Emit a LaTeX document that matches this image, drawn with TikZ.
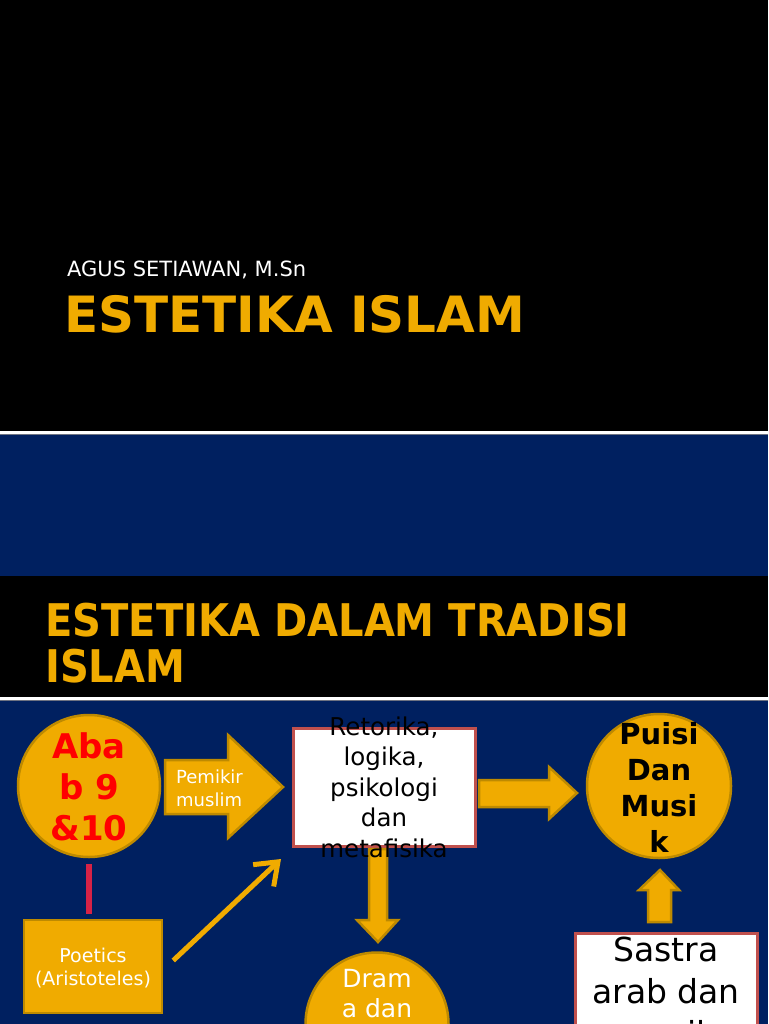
\documentclass[tikz,border=0pt]{standalone}
\usepackage{fontspec}
\setmainfont{DejaVu Sans}
\newfontfamily\condfont[FakeStretch=0.89]{DejaVu Sans}
\usetikzlibrary{arrows.meta}
\definecolor{navy}{RGB}{0,32,96}
\definecolor{gold}{RGB}{240,171,0}
\definecolor{golddark}{RGB}{190,138,0}
\definecolor{boxred}{RGB}{192,80,77}
\definecolor{linered}{RGB}{214,34,70}
\definecolor{sepgray}{RGB}{110,115,130}
\tikzset{
  goldshape/.style={fill=gold, draw=golddark, line width=2.5pt},
  whitebox/.style={fill=white, draw=boxred, line width=3pt},
  lbl/.style={inner sep=0, align=center, anchor=base},
}
\begin{document}
\begin{tikzpicture}[x=1pt,y=-1pt]
\useasboundingbox (0,0) rectangle (768,1024);
\clip (0,0) rectangle (768,1024);
% backgrounds
\fill[black] (0,0) rectangle (768,431);
\fill[white] (0,431) rectangle (768,434);
\fill[sepgray] (0,434) rectangle (768,435);
\fill[navy] (0,435) rectangle (768,576);
\fill[black] (0,576) rectangle (768,697);
\fill[white] (0,697) rectangle (768,700);
\fill[sepgray] (0,700) rectangle (768,701);
\fill[navy] (0,701) rectangle (768,1024);
% titles
\node[anchor=base west, inner sep=0, text=white, font=\fontsize{21}{25}\selectfont] (author) at (67,276) {AGUS SETIAWAN, M.Sn};
\node[anchor=base west, inner sep=0, text=gold, font=\fontsize{50}{60}\selectfont\bfseries] (title) at (64,332) {ESTETIKA ISLAM};
\node[anchor=base west, inner sep=0, align=left, text=gold, font=\condfont\bfseries\fontsize{45}{46}\selectfont] (title2) at (45,682) {ESTETIKA DALAM TRADISI\\ISLAM};
% shapes
\node[goldshape, circle, minimum size=142pt, inner sep=0] (abab) at (89,786) {};
\node[whitebox, rectangle, minimum width=182pt, minimum height=118pt, inner sep=0] (reto) at (384,787) {};
\node[goldshape, circle, minimum size=144pt, inner sep=0] (puisi) at (659,786) {};
\node[goldshape, rectangle, minimum width=138pt, minimum height=93pt, inner sep=0] (poetics) at (93,966.5) {};
\node[goldshape, circle, minimum size=143pt, inner sep=0] (drama) at (377,1024) {};
\node[whitebox, rectangle, minimum width=182pt, minimum height=127pt, inner sep=0] (sastra) at (666,996.5) {};
% block arrows
\filldraw[goldshape, line join=miter] (165,760) -- (228,760) -- (228,735) -- (283,787) -- (228,838) -- (228,814) -- (165,814) -- cycle;
\filldraw[goldshape, line join=miter] (479,780) -- (549,780) -- (549,767) -- (577,793) -- (549,819) -- (549,807) -- (479,807) -- cycle;
\filldraw[goldshape, line join=miter] (369,849) -- (387,849) -- (387,920) -- (398,920) -- (378,942) -- (357,920) -- (369,920) -- cycle;
\filldraw[goldshape, line join=miter] (648,922) -- (671,922) -- (671,890) -- (679,890) -- (660,870) -- (639,890) -- (648,890) -- cycle;
% connectors
\draw[linered, line width=6.5pt] ([yshift=-6pt]abab.south) -- ([yshift=5pt]abab.south |- poetics.north);
\coordinate (diagtip) at (281,859);
\draw[gold, line width=5pt, -{Straight Barb[length=20pt,width=30pt]}] ([xshift=10pt,yshift=6pt]poetics.east) -- (diagtip);
% texts (anchor base = baseline of the last line)
\node[lbl, text=red, font=\fontsize{34}{41}\selectfont\bfseries] (ababtxt) at (89,840) {Aba\\b 9\\\&10};
\node[anchor=base west, inner sep=0, align=left, text=white, font=\fontsize{18}{23}\selectfont] (pemtxt) at (176,806) {Pemikir\\muslim};
\node[lbl, text=black, font=\fontsize{24.5}{30.5}\selectfont] (retotxt) at (384,857) {Retorika,\\logika,\\psikologi\\dan\\metafisika};
\node[lbl, text=black, font=\fontsize{29}{35.7}\selectfont\bfseries] (puisitxt) at (659,852) {Puisi\\Dan\\Musi\\k};
\node[lbl, text=white, font=\fontsize{19}{23}\selectfont] (poetxt) at (93,985) {Poetics\\(Aristoteles)};
\node[lbl, text=white, font=\fontsize{25}{30}\selectfont] (dramtxt) at (377,1017) {Dram\\a dan};
\node[lbl, text=black, font=\fontsize{33}{42}\selectfont] (sastxt) at (666,1045) {Sastra\\arab dan\\musik};
\end{tikzpicture}
\end{document}
